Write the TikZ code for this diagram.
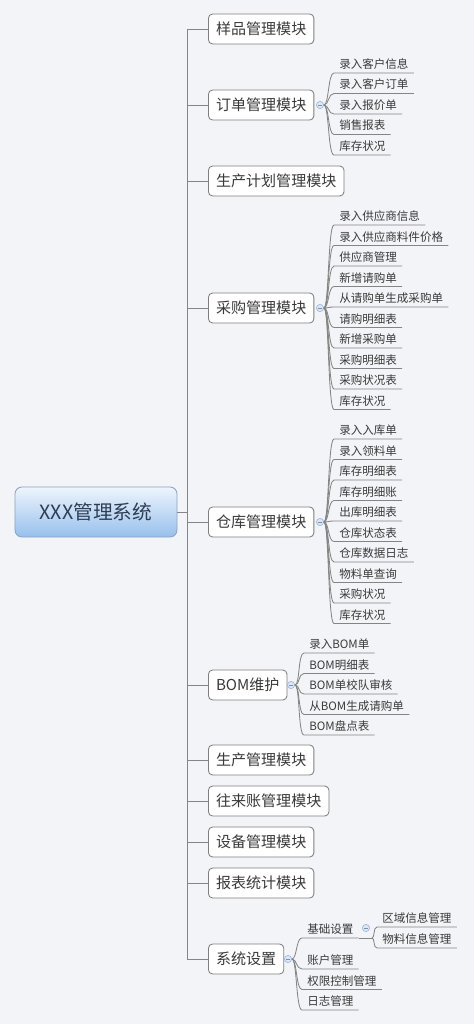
\documentclass[tikz,border=0pt]{standalone}
\usepackage{fontspec}
\setmainfont{Noto Sans CJK SC}
\definecolor{bggray}{HTML}{F3F4F8}
\definecolor{boxedge}{HTML}{7E7E7E}
\definecolor{textgray}{HTML}{3A3A3A}
\definecolor{linegray}{HTML}{858585}
\definecolor{rootedge}{HTML}{8AA4C2}
\definecolor{rootlight}{HTML}{EEF5FD}
\definecolor{rootdark}{HTML}{97C0EC}
\definecolor{roottext}{HTML}{2E3D52}
\definecolor{knobedge}{HTML}{A3BAD8}
\definecolor{knobfill}{HTML}{DCE7F6}
\definecolor{knobmark}{HTML}{7390BC}
\tikzset{
  root/.style={draw=rootedge, top color=rootlight, bottom color=rootdark, rounded corners=5pt,
    line width=.6pt, minimum width=4.05cm, minimum height=1.25cm, text=roottext,
    font=\fontsize{14pt}{16pt}\selectfont},
  module/.style={draw=boxedge, fill=white, rounded corners=3pt, line width=.6pt,
    minimum height=.75cm, inner xsep=.19cm, inner ysep=0pt, anchor=west, text=textgray,
    font=\fontsize{10.7pt}{12pt}\selectfont},
  item/.style={anchor=south west, inner xsep=.125cm, inner ysep=1.5pt, text height=6.5pt,
    text depth=1.5pt, text=textgray, font=\fontsize{8.2pt}{10pt}\selectfont},
  link/.style={draw=linegray, line width=.6pt},
  knob/.style={circle, draw=knobedge, fill=knobfill, line width=.5pt, minimum size=.18cm,
    inner sep=0pt, path picture={\draw[knobmark, line width=.6pt]
      ([xshift=1.2pt]path picture bounding box.west) -- ([xshift=-1.2pt]path picture bounding box.east);}}
}
\begin{document}
\begin{tikzpicture}[x=.025cm, y=-.025cm]
  \fill[bggray] (0,0) rectangle (474,1024);
  \useasboundingbox (0,0) rectangle (474,1024);

  % root and main branches
  \node[root] (sys) at (96,512) {XXX管理系统};
  \coordinate (spine) at (187,0);
  \foreach \t/\y [count=\i] in {样品管理模块/29, 订单管理模块/105, 生产计划管理模块/181,
      采购管理模块/308, 仓库管理模块/522, BOM维护/685, 生产管理模块/760,
      往来账管理模块/801, 设备管理模块/842, 报表统计模块/883, 系统设置/959} {
    \node[module] (m\i) at (208,\y) {\t};
    \draw[link] (m\i.west) -- (m\i.west -| spine);
  }
  \draw[link] (m1.west -| spine) -- (m11.west -| spine);
  \draw[link] (sys.east) -- (sys.east -| spine);

  % collapse knobs
  \node[knob] (k2) at (320,105) {};
  \node[knob] (k4) at (320,308) {};
  \node[knob] (k5) at (320,522) {};
  \node[knob] (k6) at (291,685) {};
  \node[knob] (k11) at (288,959) {};
  \node[knob] (k12) at (366,928) {};

  % orders
  \foreach \t [count=\i] in {录入客户信息,录入客户订单,录入报价单,销售报表,库存状况} {
    \node[item] (d\i) at (334,{73+20.5*(\i-1)}) {\t};
    \draw[link] (k2.east) .. controls +(5,0) and +(-6,0) .. (d\i.south west) -- (d\i.south east);
  }
  % purchasing
  \foreach \t [count=\i] in {录入供应商信息,录入供应商料件价格,供应商管理,新增请购单,
      从请购单生成采购单,请购明细表,新增采购单,采购明细表,采购状况表,库存状况} {
    \node[item] (p\i) at (334,{225+20.5*(\i-1)}) {\t};
    \draw[link] (k4.east) .. controls +(5,0) and +(-6,0) .. (p\i.south west) -- (p\i.south east);
  }
  % warehouse
  \foreach \t [count=\i] in {录入入库单,录入领料单,库存明细表,库存明细账,出库明细表,
      仓库状态表,仓库数据日志,物料单查询,采购状况,库存状况} {
    \node[item] (w\i) at (334,{439+20.5*(\i-1)}) {\t};
    \draw[link] (k5.east) .. controls +(5,0) and +(-6,0) .. (w\i.south west) -- (w\i.south east);
  }
  % bom
  \foreach \t [count=\i] in {录入BOM单,BOM明细表,BOM单校队审核,从BOM生成请购单,BOM盘点表} {
    \node[item] (b\i) at (304,{653+20.5*(\i-1)}) {\t};
    \draw[link] (k6.east) .. controls +(5,0) and +(-6,0) .. (b\i.south west) -- (b\i.south east);
  }
  % settings
  \node[item] (s1) at (302,938) {基础设置};
  \foreach \t [count=\i from 2] in {账户管理,权限控制管理,日志管理}
    \node[item] (s\i) at (302,{969+20.5*(\i-2)}) {\t};
  \foreach \i in {1,...,4}
    \draw[link] (k11.east) .. controls +(5,0) and +(-6,0) .. (s\i.south west) -- (s\i.south east);
  \coordinate (jb) at (372,938);
  \draw[link] (s1.south east) -- (jb);
  \node[item] (r1) at (377,927) {区域信息管理};
  \node[item] (r2) at (377,948) {物料信息管理};
  \foreach \i in {1,2}
    \draw[link] (jb) .. controls +(3,0) and +(-4,0) .. (r\i.south west) -- (r\i.south east);
\end{tikzpicture}
\end{document}
